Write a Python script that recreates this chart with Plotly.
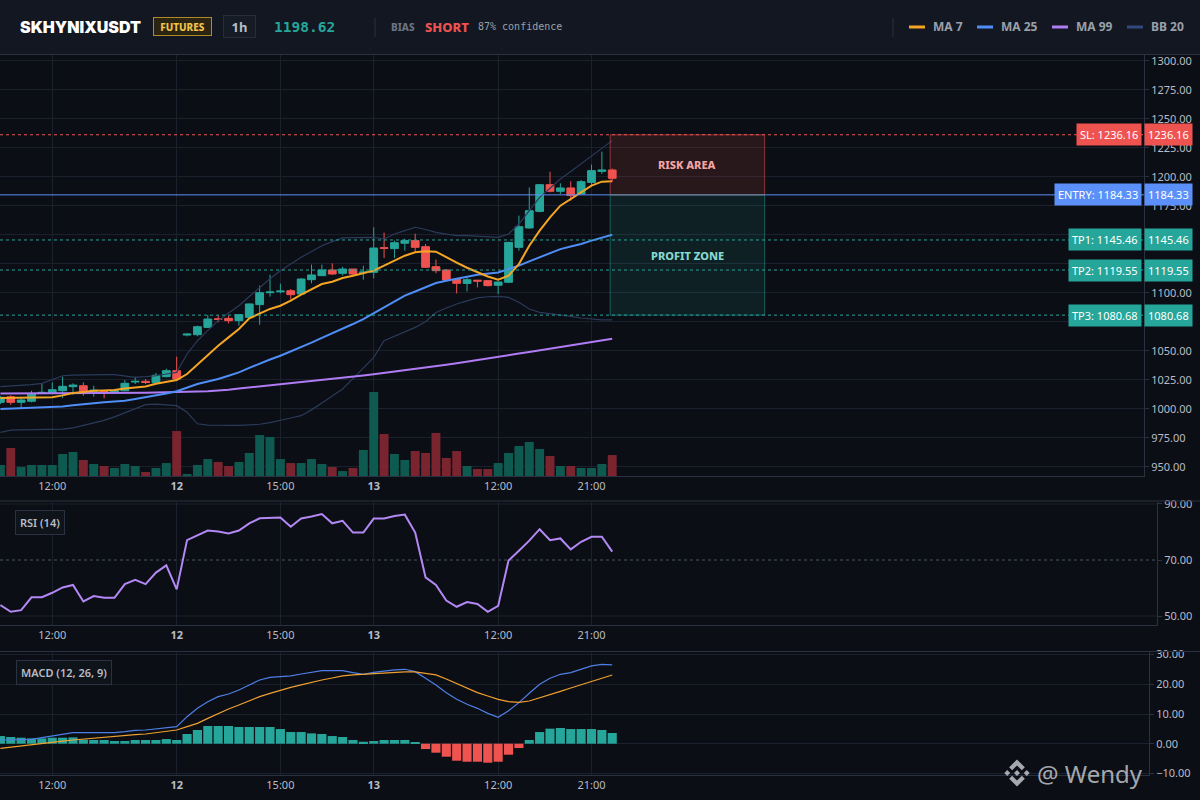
import plotly.graph_objects as go

W, H = 1200, 800

# ---- data (1h candles) ----
opens = [1005.5, 1010.3, 1005.5, 1006.4, 1013.2, 1013.2, 1015.5, 1019.0, 1019.8, 1014.1,
         1015.5, 1014.5, 1015.5, 1023.0, 1023.6, 1022.4, 1027.6, 1032.8, 1063.5, 1063.8,
         1070.1, 1077.5, 1077.9, 1075.9, 1078.8, 1089.7, 1100.0, 1100.8, 1101.7, 1098.9,
         1111.2, 1114.7, 1119.6, 1116.7, 1120.4, 1117.3, 1117.6, 1138.8, 1138.0, 1142.6,
         1144.9, 1139.7, 1122.4, 1119.6, 1111.5, 1108.0, 1110.8, 1110.4, 1106.4, 1109.0,
         1139.1, 1155.8, 1170.1, 1193.1, 1187.4, 1190.3, 1185.1, 1195.1, 1204.6, 1205.8]
highs = [1011.0, 1011.5, 1009.8, 1015.5, 1021.9, 1022.7, 1027.6, 1021.9, 1022.7, 1019.8,
         1016.0, 1017.0, 1024.7, 1027.6, 1025.6, 1030.8, 1034.5, 1044.8, 1065.0, 1071.6,
         1080.8, 1080.8, 1079.9, 1081.6, 1090.8, 1106.1, 1115.5, 1107.8, 1103.2, 1112.7,
         1124.2, 1124.2, 1125.3, 1122.4, 1120.4, 1123.3, 1156.4, 1151.8, 1144.9, 1146.6,
         1150.9, 1142.0, 1128.5, 1120.4, 1112.7, 1113.2, 1110.8, 1111.0, 1109.5, 1144.0,
         1166.4, 1190.8, 1193.7, 1204.3, 1194.3, 1196.0, 1197.1, 1210.4, 1221.6, 1207.0]
lows = [1004.0, 1003.4, 1000.3, 1005.5, 1012.7, 1012.7, 1009.2, 1012.0, 1011.2, 1010.4,
        1008.9, 1012.7, 1015.0, 1021.3, 1021.3, 1021.9, 1027.0, 1024.2, 1062.4, 1062.4,
        1069.6, 1074.4, 1073.6, 1071.6, 1077.3, 1072.4, 1096.6, 1099.4, 1094.0, 1098.3,
        1108.1, 1114.4, 1115.5, 1114.7, 1115.5, 1111.2, 1112.4, 1129.9, 1129.9, 1136.2,
        1134.8, 1121.3, 1116.7, 1110.4, 1099.4, 1101.1, 1104.6, 1105.5, 1098.9, 1108.3,
        1136.2, 1155.2, 1169.3, 1186.5, 1185.1, 1179.3, 1184.5, 1191.4, 1202.3, 1196.0]
closes = [1009.8, 1005.5, 1007.5, 1012.7, 1014.1, 1016.4, 1019.3, 1020.4, 1014.1, 1016.1,
          1015.0, 1015.8, 1021.9, 1023.6, 1022.6, 1028.8, 1032.8, 1025.6, 1064.3, 1070.7,
          1077.3, 1077.0, 1075.9, 1081.1, 1090.3, 1100.0, 1100.6, 1101.4, 1098.3, 1111.8,
          1115.3, 1119.6, 1116.1, 1120.4, 1116.1, 1117.8, 1138.5, 1138.3, 1143.1, 1144.9,
          1139.1, 1121.9, 1119.0, 1111.0, 1108.1, 1111.2, 1110.0, 1106.1, 1109.2, 1143.4,
          1156.9, 1170.7, 1193.1, 1187.4, 1190.3, 1183.7, 1195.7, 1205.2, 1205.8, 1198.62]
volume = [138, 350, 112, 138, 138, 138, 275, 300, 200, 150,
          125, 100, 150, 125, 50, 100, 162, 562, 25, 138,
          212, 175, 125, 175, 288, 512, 488, 212, 162, 162,
          212, 150, 112, 62, 100, 325, 1050, 525, 275, 200,
          312, 288, 538, 225, 312, 125, 88, 88, 162, 288,
          375, 425, 338, 250, 125, 125, 100, 100, 150, 262]

ma7 = [1009.2, 1009.4, 1009.4, 1009.6, 1009.7, 1009.8, 1011.5, 1013.5, 1014.5, 1015.5,
       1015.8, 1016.1, 1017.5, 1018.5, 1019.2, 1021.5, 1023.0, 1024.7, 1029.9, 1038.0,
       1045.7, 1054.3, 1061.5, 1068.7, 1077.9, 1081.6, 1086.0, 1088.8, 1093.1, 1098.3,
       1103.2, 1107.5, 1109.5, 1112.7, 1114.7, 1116.7, 1119.0, 1123.3, 1127.6, 1131.9,
       1134.8, 1135.7, 1135.4, 1130.5, 1126.0, 1121.5, 1117.5, 1114.0, 1111.2, 1114.7,
       1124.7, 1140.5, 1153.5, 1165.0, 1175.0, 1180.8, 1186.5, 1192.3, 1195.7, 1196.0]
ma25 = [999.7, 1000.0, 1000.2, 1000.5, 1000.8, 1001.1, 1002.0, 1003.0, 1004.0, 1004.7,
        1005.5, 1006.2, 1006.9, 1008.3, 1009.8, 1011.5, 1013.2, 1015.0, 1018.0, 1021.3,
        1023.5, 1025.6, 1028.4, 1031.3, 1035.2, 1039.1, 1042.4, 1045.7, 1049.3, 1052.9,
        1057.0, 1061.0, 1064.9, 1068.7, 1073.0, 1077.3, 1082.3, 1087.4, 1092.5, 1097.5,
        1101.0, 1104.6, 1108.4, 1110.3, 1111.8, 1113.7, 1115.5, 1116.5, 1117.5, 1120.4,
        1123.3, 1127.0, 1130.5, 1134.0, 1137.6, 1139.8, 1142.0, 1144.9, 1147.7, 1150.0]
ma99 = [1013.2, 1013.2, 1013.2, 1013.2, 1013.3, 1013.3, 1013.3, 1013.4, 1013.4, 1013.4,
        1013.5, 1013.5, 1013.6, 1013.7, 1013.8, 1013.9, 1014.0, 1014.0, 1014.4, 1014.8,
        1015.1, 1015.5, 1016.4, 1017.4, 1018.3, 1019.3, 1020.1, 1021.0, 1021.8, 1022.7,
        1023.6, 1024.6, 1025.5, 1026.5, 1027.6, 1028.6, 1029.7, 1030.8, 1031.9, 1032.9,
        1034.0, 1035.1, 1036.4, 1037.8, 1039.1, 1040.6, 1042.0, 1043.5, 1044.8, 1046.2,
        1047.5, 1048.8, 1050.2, 1051.5, 1052.9, 1054.4, 1055.8, 1057.3, 1058.8, 1060.3]
bb_upper = [1019.0, 1019.4, 1019.8, 1020.8, 1021.8, 1025.0, 1028.4, 1029.0, 1029.3, 1029.4,
            1029.4, 1029.3, 1028.2, 1027.0, 1027.6, 1028.4, 1029.9, 1031.3, 1047.2, 1058.6,
            1067.5, 1075.9, 1082.5, 1088.8, 1096.7, 1104.6, 1112.0, 1119.0, 1125.0, 1130.5,
            1135.5, 1140.5, 1144.0, 1147.2, 1147.5, 1147.7, 1147.7, 1146.3, 1150.6, 1153.5,
            1156.4, 1154.5, 1152.0, 1150.5, 1149.2, 1149.2, 1148.5, 1148.0, 1147.7, 1150.6,
            1159.2, 1170.7, 1182.2, 1190.0, 1198.0, 1204.5, 1211.0, 1217.5, 1223.9, 1231.1]
bb_lower = [979.6, 981.6, 981.8, 981.9, 982.1, 982.3, 982.4, 983.5, 985.5, 987.5,
            990.0, 993.0, 996.5, 999.7, 1003.5, 1004.0, 1003.5, 1002.6, 996.9, 987.0,
            985.9, 985.6, 985.4, 985.6, 986.0, 986.6, 988.0, 989.7, 992.0, 994.0,
            999.0, 1005.0, 1011.0, 1017.0, 1026.0, 1035.0, 1044.3, 1058.6, 1062.5, 1066.5,
            1070.1, 1075.0, 1083.0, 1086.8, 1090.3, 1093.0, 1095.5, 1096.5, 1096.9, 1096.0,
            1091.7, 1086.0, 1083.1, 1082.0, 1081.1, 1079.6, 1078.2, 1077.3, 1076.5, 1076.5]

rsi = [53.9, 51.5, 52.1, 56.7, 56.7, 58.3, 60.2, 61.1, 55.2, 57.1,
       56.5, 56.5, 61.4, 62.9, 61.4, 65.5, 68.1, 59.5, 77.1, 78.7,
       80.5, 80.2, 79.5, 80.5, 83.1, 84.9, 85.1, 85.2, 81.9, 84.8,
       85.5, 86.4, 83.1, 84.0, 79.8, 79.8, 84.8, 84.8, 85.7, 86.2,
       79.8, 63.8, 61.1, 55.5, 53.3, 55.0, 54.3, 51.5, 53.6, 69.8,
       73.3, 76.9, 81.0, 77.1, 77.7, 73.8, 76.5, 78.3, 78.3, 73.0]

macd = [1.24, 1.24, 1.24, 1.46, 2.02, 2.58, 3.15, 3.71, 3.71, 3.71,
        3.71, 3.71, 4.04, 4.49, 4.61, 4.94, 5.51, 5.73, 9.10, 11.91,
        14.16, 15.84, 16.74, 18.09, 19.78, 21.46, 22.36, 22.70, 22.81, 23.48,
        24.04, 24.61, 24.61, 24.61, 23.93, 23.37, 24.04, 24.49, 24.83, 25.06,
        24.27, 22.02, 19.78, 17.19, 14.94, 13.26, 11.91, 10.22, 8.88, 11.12,
        13.82, 16.97, 20.00, 22.02, 23.37, 23.93, 25.06, 26.18, 26.74, 26.52]
signal = [-1.57, -1.12, -0.79, -0.34, 0.11, 0.56, 0.90, 1.24, 1.57, 1.91,
          2.13, 2.47, 2.70, 3.03, 3.26, 3.71, 4.04, 4.61, 5.73, 6.85,
          8.54, 10.22, 11.69, 13.03, 14.49, 15.84, 16.97, 18.09, 18.99, 19.78,
          20.67, 21.46, 22.13, 22.81, 23.15, 23.37, 23.60, 23.71, 23.93, 24.16,
          24.16, 23.71, 23.15, 21.80, 20.34, 18.76, 17.19, 16.07, 14.94, 14.16,
          13.93, 14.38, 15.39, 16.40, 17.64, 18.76, 19.89, 21.01, 22.13, 23.15]
hist = [2.58, 2.25, 2.02, 1.80, 1.80, 2.02, 2.02, 2.13, 1.35, 1.24,
        1.24, 0.90, 0.90, 1.24, 1.24, 1.24, 1.57, 1.24, 3.26, 4.61,
        5.96, 5.96, 5.96, 5.62, 5.62, 5.62, 5.62, 4.94, 3.93, 3.93,
        3.48, 3.26, 2.58, 2.25, 1.24, 0.67, 0.90, 1.24, 1.24, 1.24,
        0.56, -1.80, -3.03, -4.38, -5.73, -6.07, -6.07, -6.40, -6.07, -3.71,
        -1.46, 1.24, 3.93, 5.06, 5.28, 4.94, 4.94, 4.94, 4.61, 3.60]

idx = list(range(len(closes)))
tick_idx = [5, 17, 27, 36, 48, 57]
tick_text = ["12:00", "<b>12</b>", "15:00", "<b>13</b>", "12:00", "21:00"]

SL, ENTRY = 1236.16, 1184.33
TPS = [("TP1", 1145.46), ("TP2", 1119.55), ("TP3", 1080.68)]
LAST = closes[-1]

# ---- colours ----
BG = "#0b0e14"
HEAD = "#121721"
GRID = "#1b212c"
AXIS = "#2a3140"
TXT = "#b8bcc6"
UP = "#26a69a"
DOWN = "#ef5350"
BLUE = "#5b8ff9"
ORANGE = "#f5a524"
MA25C = "#4f8ef7"
PURPLE = "#b07cf5"
BBC = "#2b3a5a"
FONT = "Noto Sans"

# ---- pixel layout ----
STEP = 10.37   # px per candle
X0 = 0.4       # px position of first candle


def px(x):
    return x / W


def py(y):
    return 1 - y / H


def xr(right):
    return [-X0 / STEP, (right - X0) / STEP]


fig = go.Figure()

vol_col = ["#0f5a50" if c >= o else "#7a2430" for o, c in zip(opens, closes)]
fig.add_trace(go.Bar(x=idx, y=volume, marker_color=vol_col, marker_line_width=0,
                     width=0.86, xaxis="x", yaxis="y4", hoverinfo="skip"))
fig.add_trace(go.Scatter(x=idx, y=bb_upper, mode="lines", line=dict(color=BBC, width=1.2),
                         hoverinfo="skip"))
fig.add_trace(go.Scatter(x=idx, y=bb_lower, mode="lines", line=dict(color=BBC, width=1.2),
                         hoverinfo="skip"))
fig.add_trace(go.Candlestick(x=idx, open=opens, high=highs, low=lows, close=closes,
                             increasing=dict(line=dict(color=UP, width=1), fillcolor=UP),
                             decreasing=dict(line=dict(color=DOWN, width=1), fillcolor=DOWN),
                             hoverinfo="skip"))
fig.add_trace(go.Scatter(x=idx, y=ma99, mode="lines", line=dict(color=PURPLE, width=2)))
fig.add_trace(go.Scatter(x=idx, y=ma25, mode="lines", line=dict(color=MA25C, width=2)))
fig.add_trace(go.Scatter(x=idx, y=ma7, mode="lines", line=dict(color=ORANGE, width=2)))

# RSI
fig.add_trace(go.Scatter(x=idx, y=rsi, mode="lines", line=dict(color="#b388f5", width=2),
                         xaxis="x2", yaxis="y2"))
# MACD
hist_col = [UP if v >= 0 else DOWN for v in hist]
fig.add_trace(go.Bar(x=idx, y=hist, marker_color=hist_col, marker_line_width=0, width=0.88,
                     xaxis="x3", yaxis="y3"))
fig.add_trace(go.Scatter(x=idx, y=macd, mode="lines", line=dict(color="#4f7fe6", width=1.2),
                         xaxis="x3", yaxis="y3"))
fig.add_trace(go.Scatter(x=idx, y=signal, mode="lines", line=dict(color="#f0a030", width=1.2),
                         xaxis="x3", yaxis="y3"))

xcommon = dict(tickmode="array", tickvals=tick_idx, ticktext=tick_text, showgrid=True,
               gridcolor=GRID, showline=True, linecolor=AXIS, zeroline=False, ticks="",
               automargin=False, tickfont=dict(size=11, color=TXT, family=FONT))
ycommon = dict(side="right", showline=True, linecolor=AXIS, zeroline=False, ticks="outside",
               ticklen=4, tickcolor=AXIS, tickformat=".2f", automargin=False,
               tickfont=dict(size=11, color=TXT, family=FONT))

price_ticks = list(range(950, 1301, 25))

fig.update_layout(
    width=W, height=H, margin=dict(l=0, r=0, t=0, b=0, autoexpand=False),
    paper_bgcolor=BG, plot_bgcolor=BG, showlegend=False,
    font=dict(family=FONT, color=TXT),
    boxgap=0.25, boxgroupgap=0.0,
    xaxis=dict(domain=[0, px(1144)], range=xr(1144), anchor="y",
               rangeslider=dict(visible=False), **xcommon),
    yaxis=dict(domain=[py(476), py(55)], range=[942.0, 1304.9], anchor="x",
               tickvals=price_ticks, showgrid=True, gridcolor=GRID, **ycommon),
    yaxis4=dict(overlaying="y", anchor="x", range=[0, 5262], visible=False),
    xaxis2=dict(domain=[0, px(1157)], range=xr(1157), anchor="y2", **xcommon),
    yaxis2=dict(domain=[py(625), py(502)], range=[46.79, 90.71], anchor="x2",
                tickvals=[50, 70, 90], showgrid=False, **ycommon),
    xaxis3=dict(domain=[0, px(1149)], range=xr(1149), anchor="y3", **xcommon),
    yaxis3=dict(domain=[py(775), py(652)], range=[-10.54, 30.88], anchor="x3",
                tickvals=[-10, 0, 10, 20, 30], showgrid=True, gridcolor=GRID, **ycommon),
)

shapes = []
ann = []


def label(x, y, text, font, **kw):
    # paper-positioned text, centred vertically on y (pixels from top)
    d = dict(x=px(x), y=py(y), xref="paper", yref="paper", text=text, showarrow=False,
             xanchor=kw.pop("xanchor", "left"), yanchor="middle", font=font)
    d.update(kw)
    ann.append(d)


# header band and separators
shapes.append(dict(type="rect", xref="paper", yref="paper", x0=0, x1=1, y0=py(54), y1=1,
                   fillcolor=HEAD, line_width=0, layer="below"))
for yy in (54.5, 501, 651.5):
    shapes.append(dict(type="line", xref="paper", yref="paper", x0=0, x1=1, y0=py(yy), y1=py(yy),
                       line=dict(color=AXIS, width=1)))
for xx in (375, 893):
    shapes.append(dict(type="line", xref="paper", yref="paper", x0=px(xx), x1=px(xx),
                       y0=py(18), y1=py(37), line=dict(color=AXIS, width=1)))

# RSI guide lines
for lv, dash, col in ((90, "solid", GRID), (50, "solid", GRID), (70, "dot", "#4a5363")):
    shapes.append(dict(type="line", xref="x2 domain", yref="y2", x0=0, x1=1, y0=lv, y1=lv,
                       line=dict(color=col, width=1, dash=dash), layer="below"))

# trade levels
shapes.append(dict(type="line", xref="x domain", yref="y", x0=0, x1=1, y0=SL, y1=SL,
                   line=dict(color=DOWN, width=1, dash="dot")))
shapes.append(dict(type="line", xref="x domain", yref="y", x0=0, x1=1, y0=ENTRY, y1=ENTRY,
                   line=dict(color=BLUE, width=1)))
for name, lv in TPS:
    shapes.append(dict(type="line", xref="x domain", yref="y", x0=0, x1=1, y0=lv, y1=lv,
                       line=dict(color=UP, width=1, dash="dot")))

# risk / profit boxes
bx0, bx1 = 58.8, 73.7
shapes.append(dict(type="rect", xref="x", yref="y", x0=bx0, x1=bx1, y0=ENTRY, y1=SL,
                   fillcolor="rgba(239,83,80,0.13)", line=dict(color="rgba(239,83,80,0.55)", width=1),
                   layer="above"))
shapes.append(dict(type="rect", xref="x", yref="y", x0=bx0, x1=bx1, y0=TPS[-1][1], y1=ENTRY,
                   fillcolor="rgba(38,166,154,0.12)", line=dict(color="rgba(38,166,154,0.5)", width=1),
                   layer="above"))
ann.append(dict(x=(bx0 + bx1) / 2, y=(SL + ENTRY) / 2, xref="x", yref="y", text="RISK AREA",
                xanchor="center", yanchor="middle", showarrow=False,
                font=dict(size=11, color="#f5a3a3", family=FONT, weight=800)))
ann.append(dict(x=(bx0 + bx1) / 2, y=(ENTRY + TPS[-1][1]) / 2, xref="x", yref="y",
                text="PROFIT ZONE", xanchor="center", yanchor="middle", showarrow=False,
                font=dict(size=11, color="#86d9cf", family=FONT, weight=800)))

# price tags on the axis
levels = [("SL", SL, DOWN), ("ENTRY", ENTRY, BLUE)] + [(n, v, UP) for n, v in TPS]
for name, lv, col in levels:
    ann.append(dict(x=px(1142), xref="paper", y=lv, yref="y", xanchor="right", yanchor="middle",
                    text=f"{name}: {lv:.2f}", showarrow=False, bgcolor=col, borderpad=3,
                    font=dict(size=11, color="#ffffff", family=FONT)))
    ann.append(dict(x=px(1144), xref="paper", y=lv, yref="y", xanchor="left", yanchor="middle",
                    text=f"{lv:.2f}", showarrow=False, bgcolor=col, borderpad=3,
                    font=dict(size=11, color="#ffffff", family=FONT)))

# header texts
HY = 27
label(18, HY, "SKHYNIXUSDT", dict(size=16, color="#ffffff", family="Inter", weight=900))
label(182, HY, "FUTURES", dict(size=10, color="#f0c24b", family=FONT, weight=800),
      xanchor="center", width=51, height=11, borderpad=3, bgcolor="#2b2412",
      bordercolor="#b08a28", borderwidth=1)
label(239.5, HY, "1h", dict(size=13, color=TXT, family=FONT, weight=700),
      xanchor="center", width=23, height=13, borderpad=4, bgcolor="#161c26",
      bordercolor="#262d3a", borderwidth=1)
label(272, HY, f"{LAST:.2f}", dict(size=14.5, color=UP, family="DejaVu Sans Mono", weight=700))
label(389, HY, "BIAS", dict(size=10, color="#6b7280", family=FONT, weight=800))
label(423, HY, "SHORT", dict(size=13, color=DOWN, family=FONT, weight=800))
label(476, HY, "87% confidence", dict(size=10, color="#9aa0aa", family="DejaVu Sans Mono"))

# header legend
for sx, col, name in ((909, ORANGE, "MA 7"), (977, MA25C, "MA 25"),
                      (1052, PURPLE, "MA 99"), (1127, "#2f4a7a", "BB 20")):
    shapes.append(dict(type="line", xref="paper", yref="paper", x0=px(sx), x1=px(sx + 16),
                       y0=py(HY), y1=py(HY), line=dict(color=col, width=3)))
    label(sx + 22, HY, name, dict(size=12, color="#9aa0aa", family=FONT, weight=700))

# indicator labels
for lx, ly, name in ((40, 522.5, "RSI (14)"), (63.5, 672.5, "MACD (12, 26, 9)")):
    label(lx, ly, name, dict(size=11, color=TXT, family=FONT, weight=600), xanchor="center",
          bgcolor="#0f131a", bordercolor=AXIS, borderwidth=1, borderpad=4)

# watermark
cx, cy, s = 1017, 773, 13.5


def poly(pts):
    d = ""
    for k, (a, b) in enumerate(pts):
        d += ("M" if k == 0 else "L") + f"{px(cx + a * s):.5f},{py(cy - b * s):.5f} "
    return d + "Z"


logo = [
    [(0, 0.22), (0.22, 0), (0, -0.22), (-0.22, 0)],
    [(-0.72, 0.22), (-0.5, 0), (-0.72, -0.22), (-0.94, 0)],
    [(0.72, 0.22), (0.94, 0), (0.72, -0.22), (0.5, 0)],
    [(0, 1), (0.58, 0.42), (0.36, 0.2), (0, 0.56), (-0.36, 0.2), (-0.58, 0.42)],
    [(0, -1), (0.58, -0.42), (0.36, -0.2), (0, -0.56), (-0.36, -0.2), (-0.58, -0.42)],
]
for p in logo:
    shapes.append(dict(type="path", xref="paper", yref="paper", path=poly(p),
                       fillcolor="rgba(205,208,215,0.8)", line_width=0))
label(1035, 773, "@ Wendy", dict(size=24, color="rgba(205,208,215,0.8)", family=FONT))

fig.update_layout(shapes=shapes, annotations=ann)
fig.write_html("out.html", config={"displayModeBar": False},
               post_script="document.body.style.margin='0';")
